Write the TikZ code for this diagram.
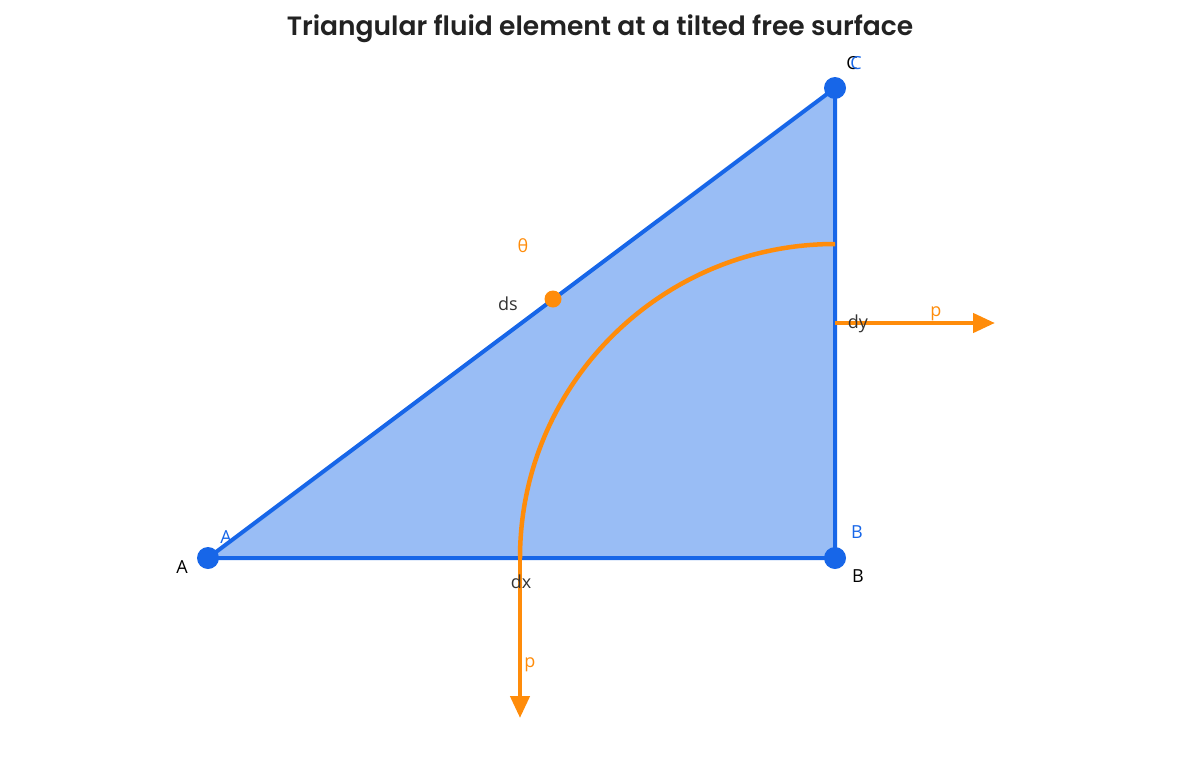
\documentclass[tikz,border=0pt]{standalone}
\usepackage{fontspec}
\setmainfont{Open Sans}
\newfontfamily\titlefont{Poppins}[UprightFont={* SemiBold}]
\usetikzlibrary{arrows.meta}
\definecolor{edgeblue}{HTML}{1766E8}
\definecolor{fillblue}{HTML}{99BDF5}
\definecolor{forceorange}{HTML}{FF8C0A}
\definecolor{labelgray}{HTML}{333333}
\definecolor{titlegray}{HTML}{222222}
\tikzset{
  vertex/.style={circle,fill=edgeblue,inner sep=0pt,minimum size=22pt},
  odot/.style={circle,fill=forceorange,inner sep=0pt,minimum size=17pt},
  edge/.style={draw=edgeblue,line width=4pt},
  force/.style={draw=forceorange,line width=4.5pt},
  forcearrow/.style={force,-{Triangle[length=22pt,width=19pt]}},
  lbl/.style={font=\fontsize{18}{20}\selectfont,inner sep=0pt},
  blk/.style={lbl,text=black},
  blu/.style={lbl,text=edgeblue},
  gry/.style={lbl,text=labelgray},
  org/.style={lbl,text=forceorange},
}
\begin{document}
\begin{tikzpicture}[x=1pt,y=-1pt]
\useasboundingbox (0,0) rectangle (1200,763);
\node[font=\titlefont\fontsize{26.5}{30}\selectfont,text=titlegray] (title) at (600,29) {Triangular fluid element at a tilted free surface};
\coordinate (A) at (208,558);
\coordinate (B) at (835,558);
\coordinate (C) at (835,88);
\fill[fillblue] (A) -- (B) -- (C) -- cycle;
\draw[edge,line join=round] (A) -- (B) -- (C) -- cycle;
% force lines
\coordinate (arcEnd) at (520,558);
\coordinate (arcTop) at (835,244);
\coordinate (pTip) at (995,323);
\coordinate (pStart) at (835,323);
\coordinate (qTip) at (520,718);
\draw[force] (arcTop) arc[start angle=90,end angle=180,x radius=315,y radius=-314] -- (arcEnd);
\draw[forcearrow] (arcEnd) -- (qTip);
\draw[forcearrow] (pStart) -- (pTip);
\node[odot] (S) at (553,299) {};
\node[vertex] (nA) at (A) {};
\node[vertex] (nB) at (B) {};
\node[vertex] (nC) at (C) {};
% labels
\node[blk] (lA) at (182,567) {A};
\node[blu] (lA2) at (226,537) {A};
\node[blu] (lB2) at (857,532) {B};
\node[blk] (lB) at (858,576) {B};
\node[blk] (lC) at (852,63) {C};
\node[blu] (lC2) at (856,63) {C};
\node[org] (th) at (523,246) {θ};
\node[gry] (ds) at (508,304) {ds};
\node[gry] (dy) at (858,324) {dy};
\node[org] (p1) at (936,314) {p};
\node[gry] (dx) at (521,582) {dx};
\node[org] (p2) at (530,665) {p};
\end{tikzpicture}
\end{document}
